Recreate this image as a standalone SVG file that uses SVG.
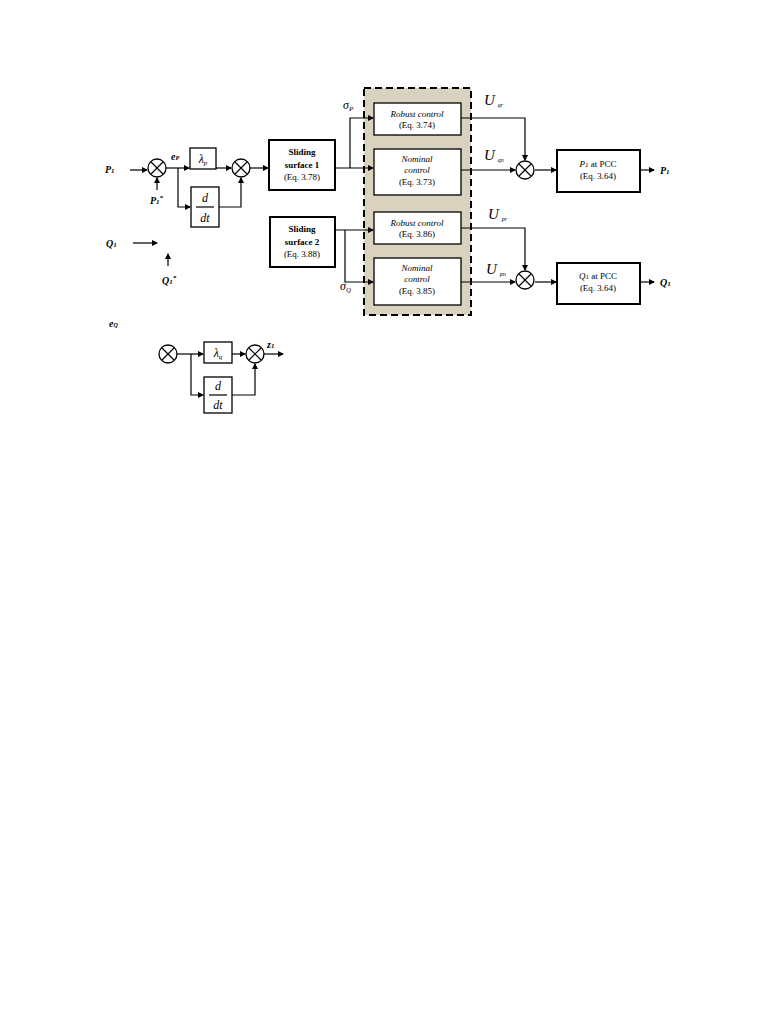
<svg xmlns="http://www.w3.org/2000/svg" width="768" height="1024" viewBox="0 0 768 1024">
<defs>
<marker id="ah" markerWidth="6" markerHeight="6" refX="5" refY="3" orient="auto" markerUnits="userSpaceOnUse"><path d="M0,0 L6,3 L0,6 z" fill="#000"/></marker>
</defs>
<style>
.b{fill:#fff;stroke:#000;stroke-width:1.3}
.bb{fill:#fff;stroke:#000;stroke-width:2}
.l{fill:none;stroke:#000;stroke-width:1.2}
.a{fill:none;stroke:#000;stroke-width:1.2;marker-end:url(#ah)}
.t{font-family:"Liberation Serif",serif;font-size:9px;text-anchor:middle}
.ti{font-family:"Liberation Serif",serif;font-size:9px;font-style:italic;text-anchor:middle}
.tb{font-family:"Liberation Serif",serif;font-size:10px;font-weight:bold;font-style:italic}
.tbb{font-family:"Liberation Serif",serif;font-size:9px;font-weight:bold;text-anchor:middle}
.m{font-family:"Liberation Serif",serif;font-style:italic}
.s{fill:#fff;stroke:#000;stroke-width:1.3}
</style>
<rect id="container" x="364" y="88" width="107" height="227" fill="#d8d2bf" stroke="#000" stroke-width="2" stroke-dasharray="7,4"/>
<g id="connectors">
<path class="a" d="M130,170 H147"/>
<path class="a" d="M157,190 V178"/>
<path class="a" d="M166,168 H189"/>
<path class="a" d="M178,168 V207 H190"/>
<path class="a" d="M216,168 H231"/>
<path class="a" d="M219,207 H241 V178"/>
<path class="a" d="M250,168 H268"/>
<path class="a" d="M335,168 H373"/>
<path class="a" d="M350,168 V118 H373"/>
<path class="a" d="M335,230 H373"/>
<path class="a" d="M345,230 V282 H373"/>
<path class="a" d="M461,118 H525 V160"/>
<path class="a" d="M461,170 H515"/>
<path class="a" d="M535,170 H556"/>
<path class="a" d="M640,170 H654"/>
<path class="a" d="M461,228 H525 V270"/>
<path class="a" d="M461,282 H515"/>
<path class="a" d="M535,282 H556"/>
<path class="a" d="M640,282 H654"/>
<path class="a" d="M133,243 H157"/>
<path class="a" d="M168,266 V254"/>
<path class="a" d="M177,354 H203"/>
<path class="a" d="M191,354 V395 H203"/>
<path class="a" d="M232,354 H245"/>
<path class="a" d="M232,395 H255 V364"/>
<path class="a" d="M264,354 H283"/>
</g>
<g id="sum1"><circle class="s" cx="157" cy="168" r="9"/><path class="l" d="M151,162 L163,174 M163,162 L151,174"/></g>
<g id="sum2"><circle class="s" cx="241" cy="168" r="9"/><path class="l" d="M235,162 L247,174 M247,162 L235,174"/></g>
<g id="sum3"><circle class="s" cx="525" cy="170" r="9"/><path class="l" d="M519,164 L531,176 M531,164 L519,176"/></g>
<g id="sum4"><circle class="s" cx="525" cy="280" r="9"/><path class="l" d="M519,274 L531,286 M531,274 L519,286"/></g>
<g id="sum5"><circle class="s" cx="168" cy="354" r="9"/><path class="l" d="M162,348 L174,360 M174,348 L162,360"/></g>
<g id="sum6"><circle class="s" cx="255" cy="354" r="9"/><path class="l" d="M249,348 L261,360 M261,348 L249,360"/></g>
<g id="lamp"><rect class="b" x="190" y="148" width="26" height="21"/><text class="m" x="203" y="163" font-size="12" text-anchor="middle">λ<tspan font-size="7" dy="2">p</tspan></text></g>
<g id="ddt1"><rect class="b" x="191" y="187" width="28" height="40"/><text class="m" x="205" y="202" font-size="12" text-anchor="middle">d</text><path class="l" d="M196,207 H214"/><text class="m" x="205" y="222" font-size="12" text-anchor="middle">dt</text></g>
<g id="ss1"><rect class="bb" x="269" y="140" width="66" height="50"/><text class="tbb" x="302" y="155">Sliding</text><text class="tbb" x="302" y="168">surface 1</text><text class="t" x="302" y="180">(Eq. 3.78)</text></g>
<g id="ss2"><rect class="bb" x="270" y="217" width="65" height="50"/><text class="tbb" x="302" y="232">Sliding</text><text class="tbb" x="302" y="245">surface 2</text><text class="t" x="302" y="257">(Eq. 3.88)</text></g>
<g id="rc1"><rect class="b" x="374" y="103" width="87" height="32"/><text class="ti" x="417" y="117">Robust control</text><text class="t" x="417" y="128">(Eq. 3.74)</text></g>
<g id="nc1"><rect class="b" x="374" y="149" width="87" height="46"/><text class="ti" x="417" y="162">Nominal</text><text class="ti" x="417" y="173">control</text><text class="t" x="417" y="185">(Eq. 3.73)</text></g>
<g id="rc2"><rect class="b" x="374" y="212" width="87" height="32"/><text class="ti" x="417" y="226">Robust control</text><text class="t" x="417" y="237">(Eq. 3.86)</text></g>
<g id="nc2"><rect class="b" x="374" y="258" width="87" height="47"/><text class="ti" x="417" y="271">Nominal</text><text class="ti" x="417" y="282">control</text><text class="t" x="417" y="294">(Eq. 3.85)</text></g>
<g id="pcc1"><rect class="bb" x="557" y="150" width="83" height="42"/><text class="t" x="598" y="167" font-size="11"><tspan font-style="italic">P</tspan><tspan font-size="7" font-style="italic">1</tspan> at PCC</text><text class="t" x="598" y="179">(Eq. 3.64)</text></g>
<g id="pcc2"><rect class="bb" x="557" y="263" width="83" height="41"/><text class="t" x="598" y="279" font-size="11"><tspan font-style="italic">Q</tspan><tspan font-size="7" font-style="italic">1</tspan> at PCC</text><text class="t" x="598" y="291">(Eq. 3.64)</text></g>
<g id="labels">
<text class="tb" x="105" y="173">P<tspan font-size="7">1</tspan></text>
<text class="tb" x="150" y="204">P<tspan font-size="7">1</tspan><tspan font-size="7" dy="-4">*</tspan></text>
<text class="tb" x="171" y="160" font-size="8">e<tspan font-size="6">P</tspan></text>
<text class="tb" x="106" y="247">Q<tspan font-size="7">1</tspan></text>
<text class="tb" x="162" y="284">Q<tspan font-size="7">1</tspan><tspan font-size="7" dy="-4">*</tspan></text>
<text class="tb" x="109" y="327" font-size="8">e<tspan font-size="6">Q</tspan></text>
<text class="tb" x="267" y="348">z<tspan font-size="7">1</tspan></text>
<text class="tb" x="660" y="174">P<tspan font-size="7">1</tspan></text>
<text class="tb" x="660" y="286">Q<tspan font-size="7">1</tspan></text>
<text class="m" x="343" y="109" font-size="12">σ<tspan font-size="7" dy="2">P</tspan></text>
<text class="m" x="340" y="290" font-size="12">σ<tspan font-size="7" dy="2">Q</tspan></text>
<text class="m" x="484" y="105" font-size="15">U<tspan font-size="6" dx="3" dy="2">qr</tspan></text>
<text class="m" x="484" y="160" font-size="15">U<tspan font-size="6" dx="3" dy="2">qn</tspan></text>
<text class="m" x="488" y="219" font-size="15">U<tspan font-size="6" dx="3" dy="2">pr</tspan></text>
<text class="m" x="486" y="274" font-size="15">U<tspan font-size="6" dx="3" dy="2">pn</tspan></text>
</g>
<g id="lamq"><rect class="b" x="204" y="342" width="28" height="21"/><text class="m" x="218" y="357" font-size="12" text-anchor="middle">λ<tspan font-size="7" dy="2">q</tspan></text></g>
<g id="ddt2"><rect class="b" x="204" y="377" width="28" height="36"/><text class="m" x="218" y="390" font-size="12" text-anchor="middle">d</text><path class="l" d="M209,395 H227"/><text class="m" x="218" y="409" font-size="12" text-anchor="middle">dt</text></g>
</svg>
